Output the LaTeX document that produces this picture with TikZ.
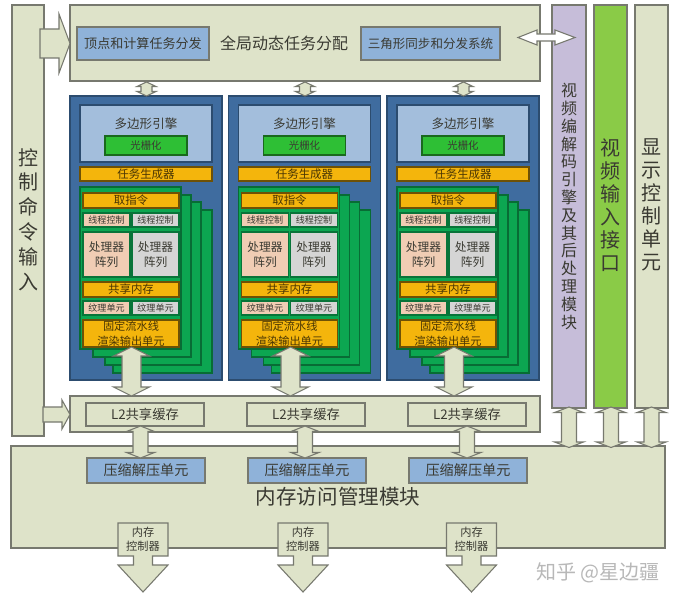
\documentclass[tikz,border=0pt]{standalone}
\usepackage{fontspec}
\setmainfont{Noto Sans CJK SC}
\usetikzlibrary{calc}
\definecolor{beige}{HTML}{DEE3C9}
\definecolor{edgegray}{HTML}{77796F}
\definecolor{navy}{HTML}{3F6C9F}
\definecolor{lblue}{HTML}{A3BEDC}
\definecolor{mblue}{HTML}{8FB2D9}
\definecolor{amber}{HTML}{F4B50C}
\definecolor{cgreen}{HTML}{0CA651}
\definecolor{rgreen}{HTML}{2EBF35}
\definecolor{peach}{HTML}{F0CDB4}
\definecolor{lgray}{HTML}{D5D5D5}
\definecolor{purp}{HTML}{C6BDD9}
\definecolor{lime}{HTML}{8ACB47}
\definecolor{ink}{HTML}{3A3A32}
\newcommand{\px}[2]{\fontsize{#1}{#2}\selectfont}
\tikzset{
  bx/.style={draw=edgegray,line width=0.8pt,inner sep=0pt,outer sep=0pt,text=ink,align=center},
  gbox/.style={bx,fill=beige},
  bbox/.style={bx,fill=mblue},
  abox/.style={bx,fill=amber,draw=black!55!amber,text=black!70!amber},
  cbox/.style={bx,fill=cgreen,draw=black!35!cgreen},
  pcell/.style={bx,fill=peach,draw=black!30!cgreen},
  gcell/.style={bx,fill=lgray,draw=black!30!cgreen},
  arr/.style={draw=edgegray,line width=0.8pt,fill=beige,line join=miter},
  vtext/.style={inner sep=0pt,align=center,text=ink},
  lbl/.style={inner sep=0pt,text=ink,align=center}
}
% \bx{name}{style}{x1}{y1}{x2}{y2}{text}
\newcommand{\bx}[7]{%
  \pgfmathsetmacro{\bw}{(#5-#3)*0.75}%
  \pgfmathsetmacro{\bh}{(#6-#4)*0.75}%
  \node[#2,minimum width=\bw pt,minimum height=\bh pt,anchor=north west] (#1) at (#3,#4) {#7};}
% vertical double arrow: x centre, top, bottom, half shaft, half head, head length
\newcommand{\vda}[6]{%
  \draw[arr] (#1,#2) -- (#1+#5,#2+#6) -- (#1+#4,#2+#6) -- (#1+#4,#3-#6) -- (#1+#5,#3-#6)
    -- (#1,#3) -- (#1-#5,#3-#6) -- (#1-#4,#3-#6) -- (#1-#4,#2+#6) -- (#1-#5,#2+#6) -- cycle;}
\begin{document}
\begin{tikzpicture}[x=0.75pt,y=-0.75pt]
\useasboundingbox (0,0) rectangle (682,602);
\fill[white] (0,0) rectangle (682,602);

% big frames
\bx{ctrl}{gbox}{12}{5}{44}{436}{}
\bx{top}{gbox}{70}{5}{540}{81}{}
\bx{l2}{gbox}{70}{396}{540}{432}{}
\bx{mem}{gbox}{11}{446}{665}{548}{}
\bx{vcodec}{bx,fill=purp}{552}{5}{586}{408}{}
\bx{vin}{bx,fill=lime}{594}{5}{627}{408}{}
\bx{disp}{gbox}{635}{5}{668}{408}{}

% top box contents
\bx{dispatch}{bbox,font=\px{9.8}{12}}{77}{27}{209}{60}{顶点和计算任务分发}
\bx{tri}{bbox,font=\px{9.4}{12}}{361}{27}{500}{60}{三角形同步和分发系统}
\node[lbl,font=\px{12}{14}] (gdist) at (284,43) {全局动态任务分配};

% control input arrows
\draw[arr] (40,29) -- (59,29) -- (59,14) -- (70,43.5) -- (59,73) -- (59,58) -- (40,58) -- cycle;
\draw[arr] (43,407) -- (62,407) -- (62,400) -- (70,414.5) -- (62,429) -- (62,422) -- (43,422) -- cycle;

% white double arrow
\draw[draw=edgegray,line width=0.8pt,fill=white] (518,37.5) -- (537,30) -- (537,34) -- (555,34) -- (555,30) -- (575,37.5) -- (555,45) -- (555,41) -- (537,41) -- (537,45) -- cycle;

% three engines
\foreach \i/\dx/\ax in {1/0/131.5,2/158.5/290.5,3/317/454}{
  \begin{scope}[shift={(\dx,0)}]
    \bx{eng\i}{bx,fill=navy,draw=navy!70!black}{70}{96}{222}{380}{}
    \bx{poly\i}{bx,fill=lblue,draw=navy!70!black}{80}{105}{212}{162}{}
    \node[lbl,font=\px{9.4}{12}] (polyt\i) at (146,123.5) {多边形引擎};
    \bx{rast\i}{bx,fill=rgreen,draw=black!45!rgreen,font=\px{7.8}{10}}{105}{136}{187}{155}{光栅化}
    \bx{task\i}{abox,font=\px{8.6}{11}}{80}{167}{212}{181}{任务生成器}
    \bx{st4\i}{cbox}{113}{210}{212}{373}{}
    \bx{st3\i}{cbox}{105}{202}{201}{365}{}
    \bx{st2\i}{cbox}{93}{195}{191}{357}{}
    \bx{st1\i}{cbox}{80}{187}{181}{349}{}
    \bx{fetch\i}{abox,font=\px{8.6}{11}}{83}{193}{179}{208}{取指令}
    \bx{tha\i}{pcell,font=\px{6.8}{9}}{83}{213}{130}{227}{线程控制}
    \bx{thb\i}{gcell,font=\px{6.8}{9}}{132}{213}{179}{227}{线程控制}
    \bx{pea\i}{pcell,font=\px{8.8}{11.2}}{83}{232}{130}{277}{处理器\\阵列}
    \bx{peb\i}{gcell,font=\px{8.8}{11.2}}{132}{232}{179}{277}{处理器\\阵列}
    \bx{shm\i}{abox,font=\px{8.6}{11}}{83}{282}{179}{297}{共享内存}
    \bx{txa\i}{pcell,font=\px{6.8}{9}}{83}{301}{130}{315}{纹理单元}
    \bx{txb\i}{gcell,font=\px{6.8}{9}}{132}{301}{179}{315}{纹理单元}
    \bx{rop\i}{abox,font=\px{8.4}{11.2}}{83}{320}{179}{347}{固定流水线\\渲染输出单元}
    % top frame to engine
    \vda{146.5}{82}{96}{5.5}{9.5}{4.5}
  \end{scope}
  % engine to L2
  \vda{\ax}{347}{396}{9.5}{18}{9}
}

% L2 caches, decompress units, links
\foreach \i/\dl/\ca in {1/0/140.5,2/161/305,3/322/467}{
  \pgfmathsetmacro{\lx}{86+\dl}
  \pgfmathsetmacro{\lxb}{204+\dl}
  \bx{cache\i}{bx,fill=beige,font=\px{10}{13}}{\lx}{403}{\lxb}{426}{L2共享缓存}
  \pgfmathsetmacro{\cx}{87+\dl}
  \pgfmathsetmacro{\cxb}{205+\dl}
  \bx{dec\i}{bbox,font=\px{10.6}{14}}{\cx}{458}{\cxb}{483}{压缩解压单元}
  \vda{\ca}{426}{458}{7.5}{14}{5.5}
}
\node[lbl,font=\px{15.4}{20}] (memt) at (338,497) {内存访问管理模块};

% memory controllers
\foreach \i/\c in {1/143,2/303,3/471.5}{
  \draw[arr] (\c-25,523) -- (\c+25,523) -- (\c+25,556) -- (\c+9.5,556) -- (\c+9.5,565) -- (\c+25,565)
     -- (\c,592) -- (\c-25,565) -- (\c-9.5,565) -- (\c-9.5,556) -- (\c-25,556) -- cycle;
  \node[lbl,font=\px{8.4}{10.5}] (mc\i) at (\c,539) {内存\\控制器};
}

% right column links
\vda{569}{407}{447.5}{7.5}{14.5}{5.5}
\vda{611}{407}{447.5}{7.5}{14.5}{5.5}
\vda{651.5}{407}{447.5}{7.5}{14.5}{5.5}

% vertical texts
\node[vtext,font=\px{15}{18.6},anchor=north] (ctrlt) at (28,148) {控\\制\\命\\令\\输\\入};
\node[vtext,font=\px{12}{13.35},anchor=north] (vcodect) at (569,83) {视\\频\\编\\解\\码\\引\\擎\\及\\其\\后\\处\\理\\模\\块};
\node[vtext,font=\px{15}{17.3},anchor=north] (vint) at (610.5,138) {视\\频\\输\\入\\接\\口};
\node[vtext,font=\px{15}{17.3},anchor=north] (dispt) at (651.5,138) {显\\示\\控\\制\\单\\元};

% watermark
\node[inner sep=0pt,text=black!28,anchor=west,font=\px{15}{18}] (wm) at (536,573) {知乎 @星边疆};
\end{tikzpicture}
\end{document}
